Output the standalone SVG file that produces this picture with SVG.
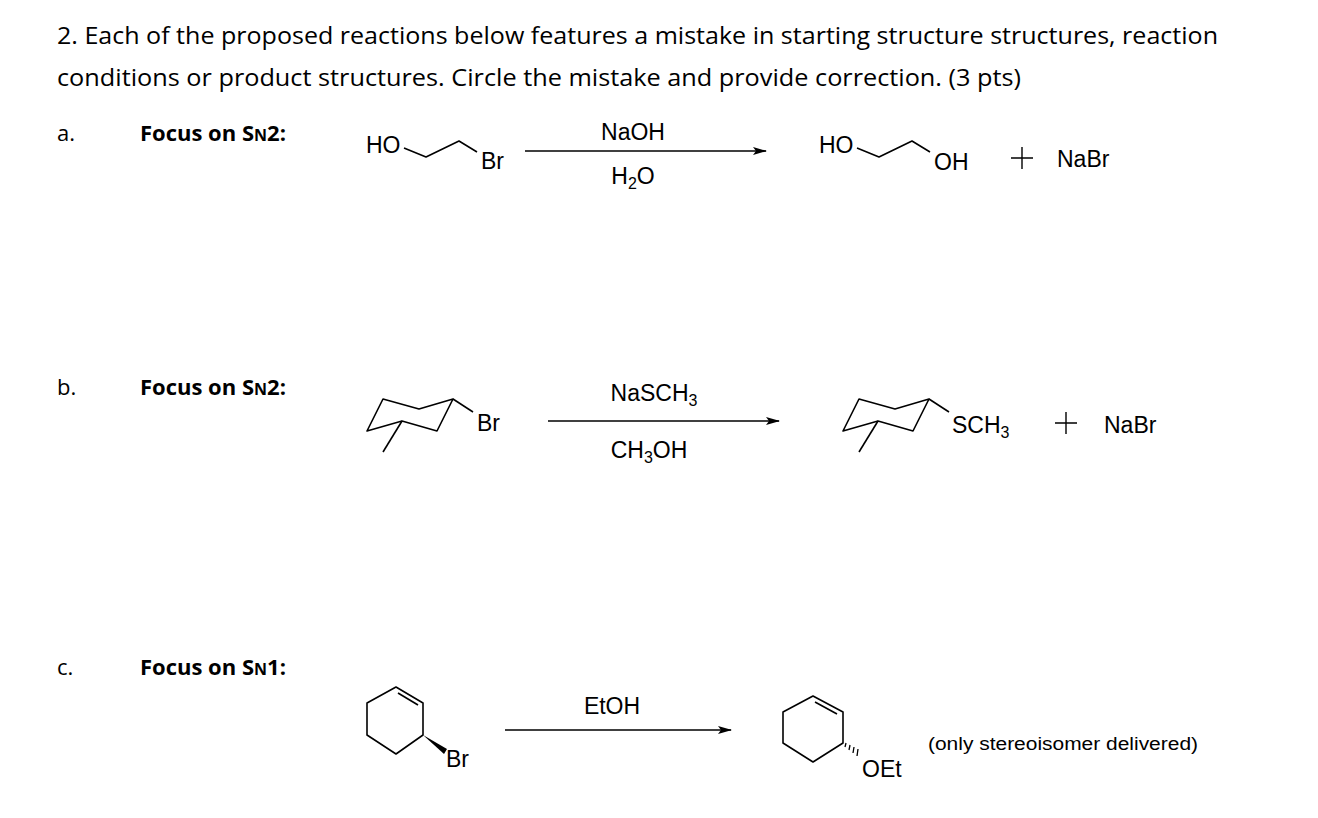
<svg xmlns="http://www.w3.org/2000/svg" width="1318" height="818" viewBox="0 0 1318 818">
<style>
.t{font-family:"Open Sans","Liberation Sans",sans-serif;font-size:23px;fill:#000}
.f{font-family:"Open Sans","Liberation Sans",sans-serif;font-size:22px;font-weight:bold;fill:#000}
.c{font-family:"Liberation Sans",Arial,sans-serif;font-size:23px;fill:#000}
.s{font-size:16px}
.b{fill:none;stroke:#000;stroke-width:1.6;stroke-linejoin:round}
.a{stroke:#000;stroke-width:1.6;fill:none}
.p{stroke:#000;stroke-width:1.4}
</style>
<defs><marker id="ah" markerWidth="14" markerHeight="8" refX="13" refY="4" orient="auto" markerUnits="userSpaceOnUse"><path d="M0,0 L14,4 L0,8 L3,4 Z" fill="#000"/></marker></defs>
<rect width="1318" height="818" fill="#fff"/>
<text class="t" x="57" y="44" textLength="1161" lengthAdjust="spacingAndGlyphs">2. Each of the proposed reactions below features a mistake in starting structure structures, reaction</text>
<text class="t" x="57" y="86" textLength="964" lengthAdjust="spacingAndGlyphs">conditions or product structures. Circle the mistake and provide correction. (3 pts)</text>
<g id="labels">
<text class="t" x="57" y="141" style="font-size:22px">a.</text>
<text class="f" x="140" y="141">Focus on S<tspan style="font-size:16px">N</tspan>2:</text>
<text class="t" x="57" y="395" style="font-size:22px">b.</text>
<text class="f" x="140" y="395">Focus on S<tspan style="font-size:16px">N</tspan>2:</text>
<text class="t" x="57" y="675" style="font-size:22px">c.</text>
<text class="f" x="140" y="675">Focus on S<tspan style="font-size:16px">N</tspan>1:</text>
</g>
<g id="a-start"><text class="c" x="366" y="153">HO</text><polyline class="b" points="404,148 426,157 459,141 477,152"/><text class="c" x="481" y="169">Br</text></g>
<g id="a-prod"><text class="c" x="819" y="153">HO</text><polyline class="b" points="857,148 879,157 912,141 930,152"/><text class="c" x="934" y="170">OH</text>
<path class="p" d="M1011,158 H1033 M1022,147 V169"/><text class="c" x="1057" y="167">NaBr</text></g>
<g id="b-start"><polygon class="b" points="383,399 419,409 453,399 437,431 402,421 367,431"/><line class="b" x1="453" y1="399" x2="473" y2="412"/><line class="b" x1="402" y1="421" x2="383" y2="452"/><text class="c" x="477" y="431">Br</text></g>
<g id="b-prod" transform="translate(476,0)"><polygon class="b" points="383,399 419,409 453,399 437,431 402,421 367,431"/><line class="b" x1="453" y1="399" x2="473" y2="412"/><line class="b" x1="402" y1="421" x2="383" y2="452"/></g>
<text class="c" x="952" y="433">SCH<tspan class="s" dy="5">3</tspan></text>
<path class="p" d="M1055,423 H1077 M1066,412 V434"/><text class="c" x="1104" y="433">NaBr</text>
<g id="c-start"><polygon class="b" points="396,687 423,703 423,735 396,754 367,735 367,703"/><line class="b" x1="398" y1="693" x2="418" y2="705"/><polygon points="423,735 447,749 444,754" fill="#000"/><text class="c" x="446" y="767">Br</text></g>
<g id="c-prod"><polygon class="b" points="813,696 843,712 843,743 813,762 783,743 783,712"/><line class="b" x1="815" y1="702" x2="837" y2="714"/>
<g stroke="#000" stroke-width="1.3"><line x1="846" y1="743" x2="845" y2="747"/><line x1="850" y1="745" x2="849" y2="750"/><line x1="854" y1="747" x2="853" y2="753"/><line x1="858" y1="749" x2="857" y2="756"/></g>
<text class="c" x="862" y="777">OEt</text>
<text class="c" x="928" y="750" style="font-size:18px" textLength="270" lengthAdjust="spacingAndGlyphs">(only stereoisomer delivered)</text></g>
<g id="connectors">
<line class="a" x1="525" y1="151" x2="766" y2="151" marker-end="url(#ah)"/>
<line class="a" x1="548" y1="421" x2="779" y2="421" marker-end="url(#ah)"/>
<line class="a" x1="505" y1="730" x2="731" y2="730" marker-end="url(#ah)"/>
</g>
<g id="reagents">
<text class="c" x="633" y="140" text-anchor="middle">NaOH</text>
<text class="c" x="633" y="184" text-anchor="middle">H<tspan class="s" dy="5">2</tspan><tspan dy="-5">O</tspan></text>
<text class="c" x="654" y="401" text-anchor="middle">NaSCH<tspan class="s" dy="5">3</tspan></text>
<text class="c" x="649" y="458" text-anchor="middle">CH<tspan class="s" dy="5">3</tspan><tspan dy="-5">OH</tspan></text>
<text class="c" x="612" y="714" text-anchor="middle">EtOH</text>
</g>
</svg>
